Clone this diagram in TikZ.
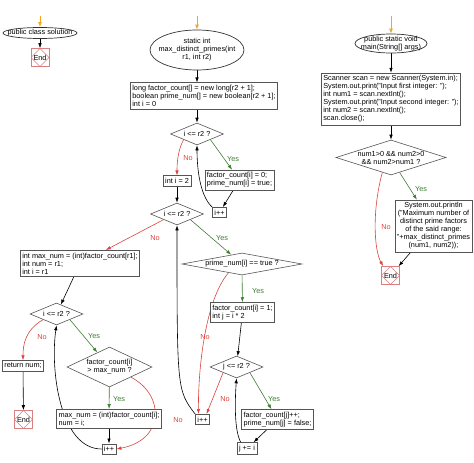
\documentclass[tikz,border=0pt]{standalone}
\usepackage{fontspec}
\setmainfont{Liberation Sans}
\usepackage{xcolor}
\usepackage{tikz}
\usetikzlibrary{shapes.geometric,arrows.meta}
\definecolor{boxgray}{HTML}{555555}
\definecolor{nored}{HTML}{D9443F}
\definecolor{yesgreen}{HTML}{3E7D32}
\definecolor{startorange}{HTML}{F5A623}
\definecolor{endred}{HTML}{D98080}
\tikzstyle{box}=[fill=white, draw=boxgray, shape=rectangle, align=left, inner xsep=2pt, inner ysep=2.5pt, minimum height=10pt, line width=0.7pt]
\tikzstyle{centre box}=[box, align=center]
\tikzstyle{test}=[fill=white, draw=boxgray, shape=diamond, align=center, inner sep=0pt, aspect=2.4, minimum width=53pt, minimum height=22pt, line width=0.6pt]
\tikzstyle{entry}=[fill=white, draw=black!80, shape=ellipse, align=center, inner sep=-10pt, line width=0.7pt]
\tikzstyle{stop}=[fill=white, draw=endred, shape=rectangle, minimum size=18pt, inner sep=0pt, line width=0.6pt, path picture={\draw[endred, line width=0.6pt] (path picture bounding box.north) -- (path picture bounding box.east) -- (path picture bounding box.south) -- (path picture bounding box.west) -- cycle;}]
\tikzstyle{yes label}=[text=yesgreen, inner sep=0pt]
\tikzstyle{no label}=[text=nored, inner sep=0pt]
\tikzstyle{flow edge}=[-{Latex[length=5pt,width=3.5pt]}, draw=black, line width=0.6pt]
\tikzstyle{yes edge}=[-{Latex[length=5pt,width=3.5pt]}, draw=yesgreen, line width=0.6pt]
\tikzstyle{no edge}=[-{Latex[length=5pt,width=3.5pt]}, draw=nored, line width=0.6pt]
\tikzstyle{start edge}=[-{Latex[length=5pt,width=4pt]}, draw=startorange, line width=0.9pt]
\pgfdeclarelayer{nodelayer}
\pgfdeclarelayer{edgelayer}
\pgfsetlayers{edgelayer,nodelayer,main}

\begin{document}
\begin{tikzpicture}[x=1pt, y=-1pt, font=\fontsize{7.3}{8}\selectfont]
    	\useasboundingbox (0,0) rectangle (474,463);
    	\begin{pgfonlayer}{nodelayer}
    		% class
    		\coordinate (s1) at (40, 16);
    		\node [style=entry, minimum width=74pt, minimum height=11pt] (cls) at (40, 33) {public class solution};
    		\node [style=stop] (end1) at (40, 57.5) {End};
    		% max_distinct_primes
    		\coordinate (s2) at (197, 16);
    		\node [style=entry, minimum width=94pt, minimum height=40pt] (mdp) at (197, 50) {static int\\max\_distinct\_primes(int\\r1, int r2)};
    		\node [style=box] (init) at (204, 96) {long factor\_count[] = new long[r2 + 1];\\boolean prime\_num[] = new boolean[r2 + 1];\\int i = 0};
    		\node [style=test] (d1) at (197, 134) {i <= r2 ?};
    		\node [style=box] (fc0) at (239.5, 180) {factor\_count[i] = 0;\\prime\_num[i] = true;};
    		\node [style=box] (ipp0) at (219.5, 212.5) {i++};
    		\node [style=box] (inti2) at (177, 181) {int i = 2};
    		\node [style=test] (d2) at (177, 214) {i <= r2 ?};
    		\node [style=test, aspect=5.45, minimum width=120pt] (d3) at (242, 264) {prime\_num[i] == true ?};
    		\node [style=box] (fc1) at (242.5, 312.5) {factor\_count[i] = 1;\\int j = i * 2};
    		\node [style=test] (d4) at (236.5, 367) {j <= r2 ?};
    		\node [style=box] (fc2) at (277.5, 419.5) {factor\_count[j]++;\\prime\_num[j] = false;};
    		\node [style=box] (jpi) at (247, 448.5) {j += i};
    		\node [style=box] (ipp2) at (202.5, 419.5) {i++};
    		\node [style=box] (maxbox) at (80, 263.5) {int max\_num = (int)factor\_count[r1];\\int num = r1;\\int i = r1};
    		\node [style=test] (d5) at (56.5, 314) {i <= r2 ?};
    		\node [style=box] (retn) at (23, 366) {return num;};
    		\node [style=stop] (end2) at (23.5, 419.5) {End};
    		\node [style=test, aspect=2.1, minimum width=85pt, minimum height=40pt] (d6) at (109.5, 367) {factor\_count[i]\\> max\_num ?};
    		\node [style=box] (mbox2) at (109, 419) {max\_num = (int)factor\_count[i];\\num = i;};
    		\node [style=box] (ipp1) at (109, 449) {i++};
    		% main
    		\coordinate (s3) at (391, 16);
    		\node [style=entry, minimum width=72pt, minimum height=19pt] (mn) at (391, 43.5) {public static void\\main(String[] args)};
    		\node [style=box] (sbox) at (391, 99) {Scanner scan = new Scanner(System.in);\\System.out.print("Input first integer: ");\\int num1 = scan.nextInt();\\System.out.print("Input second integer: ");\\int num2 = scan.nextInt();\\scan.close();};
    		\node [style=test, aspect=3.1, minimum width=110pt, minimum height=35pt] (d7) at (391, 157.5) {num1>0 \&\& num2>0\\\&\& num2>num1 ?};
    		\node [style=centre box] (pbox) at (433.5, 226) {System.out.println\\("Maximum number of\\distinct prime factors\\of the said range:\\"+max\_distinct\_primes\\(num1, num2));};
    		\node [style=stop] (end3) at (390.5, 275.5) {End};
    		% labels
    		\node [style=no label] (lno1) at (188, 158) {No};
    		\node [style=yes label] (lyes1) at (233, 159) {Yes};
    		\node [style=no label] (lno2) at (155, 238) {No};
    		\node [style=yes label] (lyes2) at (222, 238) {Yes};
    		\node [style=yes label] (lyes3) at (258, 291) {Yes};
    		\node [style=no label] (lno3) at (205, 337) {No};
    		\node [style=no label] (lno4) at (225, 399) {No};
    		\node [style=yes label] (lyes4) at (274, 399) {Yes};
    		\node [style=no label] (lno5) at (42, 337) {No};
    		\node [style=yes label] (lyes5) at (94, 336) {Yes};
    		\node [style=yes label] (lyes6) at (119, 399) {Yes};
    		\node [style=no label] (lno6) at (178, 420) {No};
    		\node [style=yes label] (lyes7) at (421, 189) {Yes};
    		\node [style=no label] (lno7) at (386, 227) {No};
    	\end{pgfonlayer}
    	\begin{pgfonlayer}{edgelayer}
    		\draw [style=start edge] (s1) to (cls);
    		\draw [style=flow edge] (cls) to (end1);
    		\draw [style=start edge] (s2) to (mdp);
    		\draw [style=flow edge] (mdp.south) to (mdp.south |- init.north);
    		\draw [style=flow edge] (init.south -| d1) to (d1);
    		\draw [style=no edge] (d1.south west) .. controls (178, 150) and (177, 162) .. (inti2.north);
    		\draw [style=yes edge] (d1.south east) to (fc0);
    		\draw [style=flow edge] (fc0) to (ipp0);
    		\draw [style=flow edge] (ipp0.north west) .. controls (199, 195) and (197, 165) .. (d1.south);
    		\draw [style=flow edge] (inti2) to (d2);
    		\draw [style=no edge] (d2.south west) to (maxbox);
    		\draw [style=yes edge] (d2.south east) to (d3);
    		\draw [style=yes edge] (d3) to (fc1);
    		\draw [style=no edge] (d3.-147) .. controls (205, 300) and (198, 370) .. ([xshift=-4pt]ipp2.north);
    		\draw [style=flow edge] (fc1) to (d4);
    		\draw [style=no edge] (d4.south west) to ([xshift=4pt]ipp2.north);
    		\draw [style=yes edge] (d4.south east) to (fc2);
    		\draw [style=flow edge] (fc2) to (jpi);
    		\draw [style=flow edge] ([xshift=4pt]jpi.north west) .. controls (234, 430) and (235, 400) .. (d4.south);
    		\draw [style=flow edge] (ipp2.north west) .. controls (177, 390) .. (d2.south);
    		\draw [style=flow edge] (maxbox) to (d5);
    		\draw [style=no edge] (d5.south west) .. controls (25, 330) and (23, 345) .. (retn.north);
    		\draw [style=flow edge] (retn) to (end2);
    		\draw [style=yes edge] (d5.south east) to (d6);
    		\draw [style=yes edge] (d6) to (mbox2);
    		\draw [style=no edge] (d6.south east) .. controls (165, 395) and (165, 440) .. (ipp1.east);
    		\draw [style=flow edge] (mbox2) to (ipp1);
    		\draw [style=flow edge] (ipp1.west) .. controls (60, 449) and (50, 370) .. (d5.south);
    		\draw [style=start edge] (s3) to (mn);
    		\draw [style=flow edge] (mn) to (sbox);
    		\draw [style=flow edge] (sbox) to (d7);
    		\draw [style=yes edge] (d7.-60) to (pbox);
    		\draw [style=no edge] (d7.-120) .. controls (372, 210) and (374, 250) .. ([xshift=2pt]end3.north west);
    		\draw [style=flow edge] (pbox) to (end3);
    	\end{pgfonlayer}
    \end{tikzpicture}
\end{document}
